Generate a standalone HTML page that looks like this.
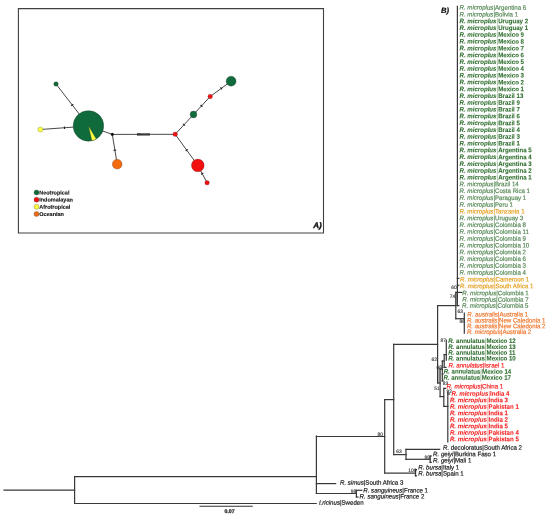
<!DOCTYPE html>
<html><head><meta charset="utf-8"><style>
html,body{margin:0;padding:0;background:#fff;}
svg{display:block;}
text{font-family:"Liberation Sans",Arial,sans-serif;text-rendering:geometricPrecision;}
</style></head><body>
<svg width="550" height="517" viewBox="0 0 550 517">
<rect width="550" height="517" fill="#fff"/>
<path d="M18.4,8.6 H323.5 V233.0 H18.4 Z" fill="none" stroke="#404040" stroke-width="1.1"/>
<g stroke="#333" stroke-width="0.9"><line x1="56" y1="84" x2="88.5" y2="126"/><line x1="40.4" y1="129.5" x2="88.5" y2="126"/><line x1="88.5" y1="126" x2="112.3" y2="134.4"/><line x1="112.3" y1="134.4" x2="175.2" y2="134.3"/><line x1="112.3" y1="134.4" x2="117.2" y2="164.2"/><line x1="175.2" y1="134.3" x2="193.5" y2="114.5"/><line x1="193.5" y1="114.5" x2="210.2" y2="96.5"/><line x1="210.2" y1="96.5" x2="231.1" y2="81.2"/><line x1="175.2" y1="134.3" x2="197.8" y2="165.4"/><line x1="197.8" y1="165.4" x2="207.1" y2="182.8"/></g>
<g stroke="#222" stroke-width="1.1"><line x1="73.28" y1="104.20" x2="71.22" y2="105.80"/><line x1="64.36" y1="126.45" x2="64.54" y2="129.05"/><line x1="116.18" y1="149.98" x2="113.61" y2="150.40"/><line x1="183.03" y1="123.91" x2="184.94" y2="125.68"/><line x1="200.56" y1="104.98" x2="202.47" y2="106.74"/><line x1="220.51" y1="87.34" x2="222.04" y2="89.44"/><line x1="187.78" y1="149.40" x2="185.67" y2="150.93"/><line x1="203.32" y1="172.97" x2="201.02" y2="174.19"/></g>
<g stroke="#222" stroke-width="0.75"><line x1="137.50" y1="133.00" x2="137.50" y2="135.80"/><line x1="138.57" y1="133.00" x2="138.57" y2="135.80"/><line x1="139.64" y1="133.00" x2="139.64" y2="135.80"/><line x1="140.71" y1="133.00" x2="140.71" y2="135.80"/><line x1="141.78" y1="133.00" x2="141.78" y2="135.80"/><line x1="142.85" y1="133.00" x2="142.85" y2="135.80"/><line x1="143.92" y1="133.00" x2="143.92" y2="135.80"/><line x1="144.99" y1="133.00" x2="144.99" y2="135.80"/><line x1="146.06" y1="133.00" x2="146.06" y2="135.80"/><line x1="147.13" y1="133.00" x2="147.13" y2="135.80"/><line x1="148.20" y1="133.00" x2="148.20" y2="135.80"/><line x1="149.27" y1="133.00" x2="149.27" y2="135.80"/></g>
<circle cx="88.45" cy="125.9" r="15.25" fill="#0f6b3b" stroke="#1a3a2a" stroke-width="0.4"/><path d="M88.5,126.1 L96.28,139.04 A15.1,15.1 0 0 1 91.90,140.81 Z" fill="#ffff3c" stroke="#333" stroke-width="0.3"/>
<g stroke="#333" stroke-width="0.25"><circle cx="56" cy="84" r="2.3" fill="#0f6b3b"/><circle cx="40.4" cy="129.5" r="2.5" fill="#ffff3c"/><circle cx="117.2" cy="164.2" r="4.9" fill="#f26b0f"/><circle cx="175.2" cy="134.3" r="2.3" fill="#f20f0f"/><circle cx="193.5" cy="114.5" r="3.4" fill="#0f6b3b"/><circle cx="210.2" cy="96.5" r="2.3" fill="#f20f0f"/><circle cx="231.1" cy="81.2" r="5.0" fill="#0f6b3b"/><circle cx="197.8" cy="165.4" r="6.4" fill="#f20f0f"/><circle cx="207.1" cy="182.8" r="2.3" fill="#f20f0f"/><circle cx="112.3" cy="134.4" r="1.4" fill="#000"/></g>
<g font-size="5.5" font-weight="bold" fill="#111" stroke="#111" stroke-width="0.12"><circle cx="36.5" cy="192.50" r="2.5" fill="#0f6b3b" stroke="#333" stroke-width="0.3"/><text transform="translate(39.2 194.45) skewY(0.05)">Neotropical</text><circle cx="36.5" cy="199.65" r="2.5" fill="#f20f0f" stroke="#333" stroke-width="0.3"/><text transform="translate(39.2 201.60) skewY(0.05)">Indomalayan</text><circle cx="36.5" cy="206.80" r="2.5" fill="#ffff3c" stroke="#333" stroke-width="0.3"/><text transform="translate(39.2 208.75) skewY(0.05)">Afrotropical</text><circle cx="36.5" cy="213.95" r="2.5" fill="#f26b0f" stroke="#333" stroke-width="0.3"/><text transform="translate(39.2 215.90) skewY(0.05)">Oceanian</text></g>
<text x="313.2" y="227.9" font-size="8" font-weight="bold" font-style="italic" fill="#111" stroke="#111" stroke-width="0.35">A)</text>
<text x="440.9" y="13.4" font-size="7.7" font-weight="bold" font-style="italic" fill="#111" stroke="#111" stroke-width="0.2">B)</text>
<rect x="455.5" y="292.4" width="1.9" height="13.2" fill="#bbb"/><rect x="438.2" y="367.3" width="1.6" height="15.5" fill="#bbb"/>
<g stroke="#383838" stroke-width="1.2" stroke-linecap="square"><line x1="4.0" y1="490.2" x2="74.6" y2="490.2"/><line x1="74.6" y1="476.6" x2="74.6" y2="503.5"/><line x1="74.6" y1="503.5" x2="316.2" y2="503.5"/><line x1="74.6" y1="476.6" x2="316.4" y2="476.6"/><line x1="316.4" y1="436.2" x2="316.4" y2="493.5"/><line x1="316.4" y1="483.6" x2="335.6" y2="483.6"/><line x1="316.4" y1="493.5" x2="356.4" y2="493.5"/><line x1="356.4" y1="490.3" x2="356.4" y2="497.0"/><line x1="356.4" y1="490.3" x2="361.8" y2="490.3"/><line x1="356.4" y1="497.0" x2="358.0" y2="497.0"/><line x1="316.4" y1="436.5" x2="384.7" y2="436.5"/><line x1="384.7" y1="399.6" x2="384.7" y2="472.9"/><line x1="384.7" y1="473.2" x2="415.5" y2="473.2"/><line x1="415.5" y1="469.6" x2="415.5" y2="475.8"/><line x1="415.5" y1="469.6" x2="416.5" y2="469.6"/><line x1="415.5" y1="475.8" x2="416.5" y2="475.8"/><line x1="384.7" y1="399.6" x2="393.7" y2="399.6"/><line x1="393.7" y1="344.3" x2="393.7" y2="454.6"/><line x1="393.7" y1="454.6" x2="406.0" y2="454.6"/><line x1="406.0" y1="449.4" x2="406.0" y2="459.3"/><line x1="406.0" y1="449.4" x2="439.7" y2="449.4"/><line x1="406.0" y1="459.3" x2="430.2" y2="459.3"/><line x1="430.2" y1="456.0" x2="430.2" y2="462.4"/><line x1="430.2" y1="456.0" x2="431.2" y2="456.0"/><line x1="430.2" y1="462.4" x2="431.2" y2="462.4"/><line x1="393.7" y1="344.3" x2="437.6" y2="344.3"/><line x1="437.6" y1="305.6" x2="437.6" y2="383.0"/><line x1="437.6" y1="305.6" x2="455.8" y2="305.6"/><line x1="455.8" y1="292.4" x2="455.8" y2="318.7"/><line x1="455.8" y1="292.4" x2="461.9" y2="292.4"/><line x1="455.8" y1="318.7" x2="464.3" y2="318.7"/><line x1="464.3" y1="313.2" x2="464.3" y2="333.2"/><line x1="457.4" y1="6.4" x2="457.4" y2="305.6"/><line x1="457.4" y1="305.6" x2="458.8" y2="305.6"/><line x1="457.4" y1="278.4" x2="458.8" y2="278.4"/><line x1="457.4" y1="285.3" x2="458.8" y2="285.3"/><line x1="437.6" y1="383.0" x2="440.1" y2="383.0"/><line x1="440.1" y1="369.2" x2="440.1" y2="396.6"/><line x1="440.1" y1="369.2" x2="442.3" y2="369.2"/><line x1="442.3" y1="361.0" x2="442.3" y2="380.8"/><line x1="442.3" y1="361.0" x2="444.2" y2="361.0"/><line x1="444.2" y1="354.6" x2="444.2" y2="367.4"/><line x1="444.2" y1="367.4" x2="446.0" y2="367.4"/><line x1="444.2" y1="354.6" x2="446.3" y2="354.6"/><line x1="446.3" y1="340.0" x2="446.3" y2="360.2"/><line x1="442.3" y1="374.0" x2="443.0" y2="374.0"/><line x1="442.3" y1="380.8" x2="443.0" y2="380.8"/><line x1="440.1" y1="396.6" x2="443.8" y2="396.6"/><line x1="443.8" y1="388.4" x2="443.8" y2="406.4"/><line x1="443.8" y1="388.4" x2="445.5" y2="388.4"/><line x1="443.8" y1="406.4" x2="447.8" y2="406.4"/><line x1="447.8" y1="392.0" x2="447.8" y2="441.8"/><line x1="447.8" y1="394.0" x2="449.5" y2="394.0"/></g>
<line x1="199.5" y1="506.2" x2="252.8" y2="506.2" stroke="#333" stroke-width="1.1"/>
<text x="229.6" y="512.6" font-size="5.2" font-weight="bold" text-anchor="middle" fill="#222" stroke="#222" stroke-width="0.25">0.07</text>
<g font-size="4.9" fill="#333" stroke="#333" stroke-width="0.12"><text x="451.2" y="288.6">60</text><text x="449.8" y="298.4">74</text><text x="457.6" y="312.8">63</text><text x="459.5" y="323.4">86</text><text x="440.6" y="341.6">87</text><text x="431.5" y="360.8">62</text><text x="436.6" y="368.6">68</text><text x="442.8" y="384.8">83</text><text x="434.3" y="389.6">51</text><text x="446.6" y="393.4">92</text><text x="377.6" y="435.8">80</text><text x="396.3" y="453.4">63</text><text x="424.6" y="459.2">99</text><text x="408.2" y="472.0">100</text><text x="350.8" y="492.8">98</text></g>
<g font-size="6.4" stroke-width="0.18"><text transform="translate(459.50 9.60) scale(0.955 1) skewY(0.05)" fill="#5a8c5a" stroke="#5a8c5a" stroke-width="0.2"><tspan font-style="italic">R. microplus</tspan>|Argentina 6</text><text transform="translate(459.50 16.39) scale(0.955 1) skewY(0.05)" fill="#5a8c5a" stroke="#5a8c5a" stroke-width="0.2"><tspan font-style="italic">R. microplus</tspan>|Bolivia 1</text><text transform="translate(459.50 23.19) scale(0.955 1) skewY(0.05)" fill="#2f6f2f" stroke="#2f6f2f" font-weight="bold" stroke-width="0.08"><tspan font-style="italic">R. microplus</tspan><tspan fill-opacity="0.45" stroke-opacity="0.3">|</tspan>Uruguay 2</text><text transform="translate(459.50 29.98) scale(0.955 1) skewY(0.05)" fill="#2f6f2f" stroke="#2f6f2f" font-weight="bold" stroke-width="0.08"><tspan font-style="italic">R. microplus</tspan><tspan fill-opacity="0.45" stroke-opacity="0.3">|</tspan>Uruguay 1</text><text transform="translate(459.50 36.78) scale(0.955 1) skewY(0.05)" fill="#2f6f2f" stroke="#2f6f2f" font-weight="bold" stroke-width="0.08"><tspan font-style="italic">R. microplus</tspan><tspan fill-opacity="0.45" stroke-opacity="0.3">|</tspan>Mexico 9</text><text transform="translate(459.50 43.58) scale(0.955 1) skewY(0.05)" fill="#2f6f2f" stroke="#2f6f2f" font-weight="bold" stroke-width="0.08"><tspan font-style="italic">R. microplus</tspan><tspan fill-opacity="0.45" stroke-opacity="0.3">|</tspan>Mexico 8</text><text transform="translate(459.50 50.37) scale(0.955 1) skewY(0.05)" fill="#2f6f2f" stroke="#2f6f2f" font-weight="bold" stroke-width="0.08"><tspan font-style="italic">R. microplus</tspan><tspan fill-opacity="0.45" stroke-opacity="0.3">|</tspan>Mexico 7</text><text transform="translate(459.50 57.16) scale(0.955 1) skewY(0.05)" fill="#2f6f2f" stroke="#2f6f2f" font-weight="bold" stroke-width="0.08"><tspan font-style="italic">R. microplus</tspan><tspan fill-opacity="0.45" stroke-opacity="0.3">|</tspan>Mexico 6</text><text transform="translate(459.50 63.96) scale(0.955 1) skewY(0.05)" fill="#2f6f2f" stroke="#2f6f2f" font-weight="bold" stroke-width="0.08"><tspan font-style="italic">R. microplus</tspan><tspan fill-opacity="0.45" stroke-opacity="0.3">|</tspan>Mexico 5</text><text transform="translate(459.50 70.75) scale(0.955 1) skewY(0.05)" fill="#2f6f2f" stroke="#2f6f2f" font-weight="bold" stroke-width="0.08"><tspan font-style="italic">R. microplus</tspan><tspan fill-opacity="0.45" stroke-opacity="0.3">|</tspan>Mexico 4</text><text transform="translate(459.50 77.55) scale(0.955 1) skewY(0.05)" fill="#2f6f2f" stroke="#2f6f2f" font-weight="bold" stroke-width="0.08"><tspan font-style="italic">R. microplus</tspan><tspan fill-opacity="0.45" stroke-opacity="0.3">|</tspan>Mexico 3</text><text transform="translate(459.50 84.34) scale(0.955 1) skewY(0.05)" fill="#2f6f2f" stroke="#2f6f2f" font-weight="bold" stroke-width="0.08"><tspan font-style="italic">R. microplus</tspan><tspan fill-opacity="0.45" stroke-opacity="0.3">|</tspan>Mexico 2</text><text transform="translate(459.50 91.14) scale(0.955 1) skewY(0.05)" fill="#2f6f2f" stroke="#2f6f2f" font-weight="bold" stroke-width="0.08"><tspan font-style="italic">R. microplus</tspan><tspan fill-opacity="0.45" stroke-opacity="0.3">|</tspan>Mexico 1</text><text transform="translate(459.50 97.93) scale(0.955 1) skewY(0.05)" fill="#2f6f2f" stroke="#2f6f2f" font-weight="bold" stroke-width="0.08"><tspan font-style="italic">R. microplus</tspan><tspan fill-opacity="0.45" stroke-opacity="0.3">|</tspan>Brazil 13</text><text transform="translate(459.50 104.73) scale(0.955 1) skewY(0.05)" fill="#2f6f2f" stroke="#2f6f2f" font-weight="bold" stroke-width="0.08"><tspan font-style="italic">R. microplus</tspan><tspan fill-opacity="0.45" stroke-opacity="0.3">|</tspan>Brazil 9</text><text transform="translate(459.50 111.52) scale(0.955 1) skewY(0.05)" fill="#2f6f2f" stroke="#2f6f2f" font-weight="bold" stroke-width="0.08"><tspan font-style="italic">R. microplus</tspan><tspan fill-opacity="0.45" stroke-opacity="0.3">|</tspan>Brazil 7</text><text transform="translate(459.50 118.32) scale(0.955 1) skewY(0.05)" fill="#2f6f2f" stroke="#2f6f2f" font-weight="bold" stroke-width="0.08"><tspan font-style="italic">R. microplus</tspan><tspan fill-opacity="0.45" stroke-opacity="0.3">|</tspan>Brazil 6</text><text transform="translate(459.50 125.11) scale(0.955 1) skewY(0.05)" fill="#2f6f2f" stroke="#2f6f2f" font-weight="bold" stroke-width="0.08"><tspan font-style="italic">R. microplus</tspan><tspan fill-opacity="0.45" stroke-opacity="0.3">|</tspan>Brazil 5</text><text transform="translate(459.50 131.91) scale(0.955 1) skewY(0.05)" fill="#2f6f2f" stroke="#2f6f2f" font-weight="bold" stroke-width="0.08"><tspan font-style="italic">R. microplus</tspan><tspan fill-opacity="0.45" stroke-opacity="0.3">|</tspan>Brazil 4</text><text transform="translate(459.50 138.70) scale(0.955 1) skewY(0.05)" fill="#2f6f2f" stroke="#2f6f2f" font-weight="bold" stroke-width="0.08"><tspan font-style="italic">R. microplus</tspan><tspan fill-opacity="0.45" stroke-opacity="0.3">|</tspan>Brazil 3</text><text transform="translate(459.50 145.50) scale(0.955 1) skewY(0.05)" fill="#2f6f2f" stroke="#2f6f2f" font-weight="bold" stroke-width="0.08"><tspan font-style="italic">R. microplus</tspan><tspan fill-opacity="0.45" stroke-opacity="0.3">|</tspan>Brazil 1</text><text transform="translate(459.50 152.29) scale(0.955 1) skewY(0.05)" fill="#2f6f2f" stroke="#2f6f2f" font-weight="bold" stroke-width="0.08"><tspan font-style="italic">R. microplus</tspan><tspan fill-opacity="0.45" stroke-opacity="0.3">|</tspan>Argentina 5</text><text transform="translate(459.50 159.09) scale(0.955 1) skewY(0.05)" fill="#2f6f2f" stroke="#2f6f2f" font-weight="bold" stroke-width="0.08"><tspan font-style="italic">R. microplus</tspan><tspan fill-opacity="0.45" stroke-opacity="0.3">|</tspan>Argentina 4</text><text transform="translate(459.50 165.88) scale(0.955 1) skewY(0.05)" fill="#2f6f2f" stroke="#2f6f2f" font-weight="bold" stroke-width="0.08"><tspan font-style="italic">R. microplus</tspan><tspan fill-opacity="0.45" stroke-opacity="0.3">|</tspan>Argentina 3</text><text transform="translate(459.50 172.68) scale(0.955 1) skewY(0.05)" fill="#2f6f2f" stroke="#2f6f2f" font-weight="bold" stroke-width="0.08"><tspan font-style="italic">R. microplus</tspan><tspan fill-opacity="0.45" stroke-opacity="0.3">|</tspan>Argentina 2</text><text transform="translate(459.50 179.47) scale(0.955 1) skewY(0.05)" fill="#2f6f2f" stroke="#2f6f2f" font-weight="bold" stroke-width="0.08"><tspan font-style="italic">R. microplus</tspan><tspan fill-opacity="0.45" stroke-opacity="0.3">|</tspan>Argentina 1</text><text transform="translate(459.50 186.27) scale(0.955 1) skewY(0.05)" fill="#5a8c5a" stroke="#5a8c5a" stroke-width="0.2"><tspan font-style="italic">R. microplus</tspan>|Brazil 14</text><text transform="translate(459.50 193.06) scale(0.955 1) skewY(0.05)" fill="#5a8c5a" stroke="#5a8c5a" stroke-width="0.2"><tspan font-style="italic">R. microplus</tspan>|Costa Rica 1</text><text transform="translate(459.50 199.86) scale(0.955 1) skewY(0.05)" fill="#5a8c5a" stroke="#5a8c5a" stroke-width="0.2"><tspan font-style="italic">R. microplus</tspan>|Paraguay 1</text><text transform="translate(459.50 206.66) scale(0.955 1) skewY(0.05)" fill="#5a8c5a" stroke="#5a8c5a" stroke-width="0.2"><tspan font-style="italic">R. microplus</tspan>|Peru 1</text><text transform="translate(459.50 213.45) scale(0.955 1) skewY(0.05)" fill="#e6a225" stroke="#e6a225" stroke-width="0.2"><tspan font-style="italic">R. microplus</tspan>|Tanzania 1</text><text transform="translate(459.50 220.25) scale(0.955 1) skewY(0.05)" fill="#5a8c5a" stroke="#5a8c5a" stroke-width="0.2"><tspan font-style="italic">R. microplus</tspan>|Uruguay 3</text><text transform="translate(459.50 227.04) scale(0.955 1) skewY(0.05)" fill="#5a8c5a" stroke="#5a8c5a" stroke-width="0.2"><tspan font-style="italic">R. microplus</tspan>|Colombia 8</text><text transform="translate(459.50 233.83) scale(0.955 1) skewY(0.05)" fill="#5a8c5a" stroke="#5a8c5a" stroke-width="0.2"><tspan font-style="italic">R. microplus</tspan>|Colombia 11</text><text transform="translate(459.50 240.63) scale(0.955 1) skewY(0.05)" fill="#5a8c5a" stroke="#5a8c5a" stroke-width="0.2"><tspan font-style="italic">R. microplus</tspan>|Colombia 9</text><text transform="translate(459.50 247.42) scale(0.955 1) skewY(0.05)" fill="#5a8c5a" stroke="#5a8c5a" stroke-width="0.2"><tspan font-style="italic">R. microplus</tspan>|Colombia 10</text><text transform="translate(459.50 254.22) scale(0.955 1) skewY(0.05)" fill="#5a8c5a" stroke="#5a8c5a" stroke-width="0.2"><tspan font-style="italic">R. microplus</tspan>|Colombia 2</text><text transform="translate(459.50 261.01) scale(0.955 1) skewY(0.05)" fill="#5a8c5a" stroke="#5a8c5a" stroke-width="0.2"><tspan font-style="italic">R. microplus</tspan>|Colombia 6</text><text transform="translate(459.50 267.81) scale(0.955 1) skewY(0.05)" fill="#5a8c5a" stroke="#5a8c5a" stroke-width="0.2"><tspan font-style="italic">R. microplus</tspan>|Colombia 3</text><text transform="translate(459.50 274.61) scale(0.955 1) skewY(0.05)" fill="#5a8c5a" stroke="#5a8c5a" stroke-width="0.2"><tspan font-style="italic">R. microplus</tspan>|Colombia 4</text><text transform="translate(460.00 281.40) scale(0.955 1) skewY(0.05)" fill="#e6a225" stroke="#e6a225" stroke-width="0.2"><tspan font-style="italic">R. microplus</tspan>|Cameroon 1</text><text transform="translate(460.00 288.19) scale(0.955 1) skewY(0.05)" fill="#e6a225" stroke="#e6a225" stroke-width="0.2"><tspan font-style="italic">R. microplus</tspan>|South Africa 1</text><text transform="translate(462.30 295.30) scale(0.955 1) skewY(0.05)" fill="#5a8c5a" stroke="#5a8c5a" stroke-width="0.2"><tspan font-style="italic">R. microplus</tspan>|Colombia 1</text><text transform="translate(462.20 301.60) scale(0.955 1) skewY(0.05)" fill="#5a8c5a" stroke="#5a8c5a" stroke-width="0.2"><tspan font-style="italic">R. microplus</tspan>|Colombia 7</text><text transform="translate(462.00 307.70) scale(0.955 1) skewY(0.05)" fill="#5a8c5a" stroke="#5a8c5a" stroke-width="0.2"><tspan font-style="italic">R. microplus</tspan>|Colombia 5</text><text transform="translate(467.30 316.50) scale(0.955 1) skewY(0.05)" fill="#f07a32" stroke="#f07a32" stroke-width="0.2"><tspan font-style="italic">R. australis</tspan>|Australia 1</text><text transform="translate(466.90 322.40) scale(0.955 1) skewY(0.05)" fill="#f07a32" stroke="#f07a32" stroke-width="0.2"><tspan font-style="italic">R. australis</tspan>|New Caledonia 1</text><text transform="translate(466.90 328.20) scale(0.955 1) skewY(0.05)" fill="#f07a32" stroke="#f07a32" stroke-width="0.2"><tspan font-style="italic">R. australis</tspan>|New Caledonia 2</text><text transform="translate(466.90 334.00) scale(0.955 1) skewY(0.05)" fill="#f07a32" stroke="#f07a32" stroke-width="0.2"><tspan font-style="italic">R. microplus</tspan>|Australia 2</text><text transform="translate(448.20 343.00) scale(0.955 1) skewY(0.05)" fill="#2f6f2f" stroke="#2f6f2f" font-weight="bold" stroke-width="0.08"><tspan font-style="italic">R.</tspan> annulatus<tspan fill-opacity="0.45" stroke-opacity="0.3">|</tspan>Mexico 12</text><text transform="translate(448.20 348.90) scale(0.955 1) skewY(0.05)" fill="#2f6f2f" stroke="#2f6f2f" font-weight="bold" stroke-width="0.08"><tspan font-style="italic">R.</tspan> annulatus<tspan fill-opacity="0.45" stroke-opacity="0.3">|</tspan>Mexico 13</text><text transform="translate(448.20 354.70) scale(0.955 1) skewY(0.05)" fill="#2f6f2f" stroke="#2f6f2f" font-weight="bold" stroke-width="0.08"><tspan font-style="italic">R.</tspan> annulatus<tspan fill-opacity="0.45" stroke-opacity="0.3">|</tspan>Mexico 11</text><text transform="translate(448.20 360.50) scale(0.955 1) skewY(0.05)" fill="#2f6f2f" stroke="#2f6f2f" font-weight="bold" stroke-width="0.08"><tspan font-style="italic">R.</tspan> annulatus<tspan fill-opacity="0.45" stroke-opacity="0.3">|</tspan>Mexico 10</text><text transform="translate(448.50 367.40) scale(0.955 1) skewY(0.05)" fill="#f52222" stroke="#f52222" stroke-width="0.2"><tspan font-style="italic">R. annulatus</tspan>|Israel 1</text><text transform="translate(443.70 373.60) scale(0.955 1) skewY(0.05)" fill="#2f6f2f" stroke="#2f6f2f" font-weight="bold" stroke-width="0.08"><tspan font-style="italic">R.</tspan> annulatus<tspan fill-opacity="0.45" stroke-opacity="0.3">|</tspan>Mexico 14</text><text transform="translate(443.40 379.70) scale(0.955 1) skewY(0.05)" fill="#2f6f2f" stroke="#2f6f2f" font-weight="bold" stroke-width="0.08"><tspan font-style="italic">R.</tspan> annulatus<tspan fill-opacity="0.45" stroke-opacity="0.3">|</tspan>Mexico 17</text><text transform="translate(446.60 388.50) scale(0.955 1) skewY(0.05)" fill="#f52222" stroke="#f52222" stroke-width="0.2"><tspan font-style="italic">R. microplus</tspan>|China 1</text><text transform="translate(451.40 395.70) scale(0.955 1) skewY(0.05)" fill="#f52222" stroke="#f52222" font-weight="bold" stroke-width="0.08"><tspan font-style="italic">R. microplus</tspan><tspan fill-opacity="0.45" stroke-opacity="0.3">|</tspan>India 4</text><text transform="translate(449.90 402.21) scale(0.955 1) skewY(0.05)" fill="#f52222" stroke="#f52222" font-weight="bold" stroke-width="0.08"><tspan font-style="italic">R. microplus</tspan><tspan fill-opacity="0.45" stroke-opacity="0.3">|</tspan>India 3</text><text transform="translate(449.90 408.73) scale(0.955 1) skewY(0.05)" fill="#f52222" stroke="#f52222" font-weight="bold" stroke-width="0.08"><tspan font-style="italic">R. microplus</tspan><tspan fill-opacity="0.45" stroke-opacity="0.3">|</tspan>Pakistan 1</text><text transform="translate(449.90 415.24) scale(0.955 1) skewY(0.05)" fill="#f52222" stroke="#f52222" font-weight="bold" stroke-width="0.08"><tspan font-style="italic">R. microplus</tspan><tspan fill-opacity="0.45" stroke-opacity="0.3">|</tspan>India 1</text><text transform="translate(449.90 421.76) scale(0.955 1) skewY(0.05)" fill="#f52222" stroke="#f52222" font-weight="bold" stroke-width="0.08"><tspan font-style="italic">R. microplus</tspan><tspan fill-opacity="0.45" stroke-opacity="0.3">|</tspan>India 2</text><text transform="translate(449.90 428.27) scale(0.955 1) skewY(0.05)" fill="#f52222" stroke="#f52222" font-weight="bold" stroke-width="0.08"><tspan font-style="italic">R. microplus</tspan><tspan fill-opacity="0.45" stroke-opacity="0.3">|</tspan>India 5</text><text transform="translate(449.90 434.79) scale(0.955 1) skewY(0.05)" fill="#f52222" stroke="#f52222" font-weight="bold" stroke-width="0.08"><tspan font-style="italic">R. microplus</tspan><tspan fill-opacity="0.45" stroke-opacity="0.3">|</tspan>Pakistan 4</text><text transform="translate(449.90 441.30) scale(0.955 1) skewY(0.05)" fill="#f52222" stroke="#f52222" font-weight="bold" stroke-width="0.08"><tspan font-style="italic">R. microplus</tspan><tspan fill-opacity="0.45" stroke-opacity="0.3">|</tspan>Pakistan 5</text><text transform="translate(443.00 449.70) scale(0.955 1) skewY(0.05)" fill="#222" stroke="#222" stroke-width="0.2"><tspan font-style="italic">R.</tspan> decoloratus|South Africa 2</text><text transform="translate(433.10 456.20) scale(0.955 1) skewY(0.05)" fill="#222" stroke="#222" stroke-width="0.2"><tspan font-style="italic">R. geiyi</tspan>|Burkina Faso 1</text><text transform="translate(433.10 462.40) scale(0.955 1) skewY(0.05)" fill="#222" stroke="#222" stroke-width="0.2"><tspan font-style="italic">R. geiyi</tspan>|Mali 1</text><text transform="translate(418.30 469.40) scale(0.955 1) skewY(0.05)" fill="#222" stroke="#222" stroke-width="0.2"><tspan font-style="italic">R. bursa</tspan>|Italy 1</text><text transform="translate(418.30 475.60) scale(0.955 1) skewY(0.05)" fill="#222" stroke="#222" stroke-width="0.2"><tspan font-style="italic">R. bursa</tspan>|Spain 1</text><text transform="translate(340.00 484.80) scale(0.955 1) skewY(0.05)" fill="#222" stroke="#222" stroke-width="0.2"><tspan font-style="italic">R. simus</tspan>|South Africa 3</text><text transform="translate(363.30 492.50) scale(0.955 1) skewY(0.05)" fill="#222" stroke="#222" stroke-width="0.2"><tspan font-style="italic">R. sanguineus</tspan>|France 1</text><text transform="translate(359.60 498.40) scale(0.955 1) skewY(0.05)" fill="#222" stroke="#222" stroke-width="0.2"><tspan font-style="italic">R. sanguineus</tspan>|France 2</text><text transform="translate(318.90 504.80) scale(0.955 1) skewY(0.05)" fill="#222" stroke="#222" stroke-width="0.2"><tspan font-style="italic">I.ricinus</tspan>|Sweden</text></g>
</svg>
</body></html>
